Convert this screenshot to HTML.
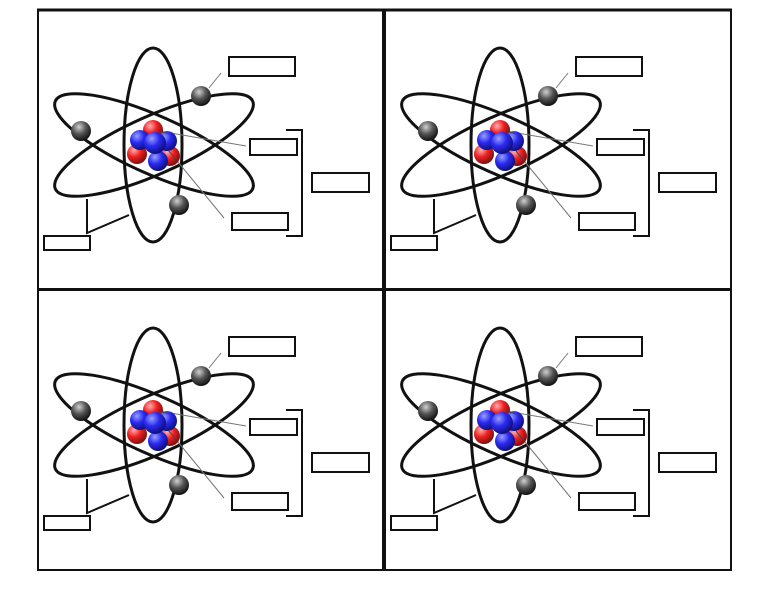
<!DOCTYPE html>
<html><head><style>
html,body{margin:0;padding:0;background:#fff;}
svg{display:block;}
</style></head><body>
<svg width="768" height="594" viewBox="0 0 768 594" xmlns="http://www.w3.org/2000/svg">
<defs>
<radialGradient id="gb" cx="0.35" cy="0.3" r="0.7"><stop offset="0" stop-color="#9aa0ff"/><stop offset="0.5" stop-color="#2a2af0"/><stop offset="1" stop-color="#101080"/></radialGradient>
<radialGradient id="gr" cx="0.35" cy="0.3" r="0.7"><stop offset="0" stop-color="#ffb0b0"/><stop offset="0.5" stop-color="#f02020"/><stop offset="1" stop-color="#801010"/></radialGradient>
<radialGradient id="gg" cx="0.4" cy="0.3" r="0.7"><stop offset="0" stop-color="#d0d0d0"/><stop offset="0.5" stop-color="#555"/><stop offset="1" stop-color="#111"/></radialGradient>
<g id="p">
 <g fill="none" stroke="#111" stroke-width="3">
  <ellipse cx="153" cy="145" rx="29" ry="97"/>
  <ellipse cx="154" cy="145" rx="108" ry="29" transform="rotate(24 154 145)"/>
  <ellipse cx="154" cy="145" rx="108" ry="29" transform="rotate(-24 154 145)"/>
 </g>
 <g stroke="#777" stroke-width="1">
  <line x1="209" y1="88" x2="221" y2="73"/>
  <line x1="159" y1="131" x2="246" y2="146"/>
  <line x1="169" y1="151" x2="224" y2="218"/>
 </g>
 <circle cx="153" cy="130" r="10" fill="url(#gr)"/>
 <circle cx="137" cy="154" r="10" fill="url(#gr)"/>
 <circle cx="170" cy="156" r="10" fill="url(#gr)"/>
 <circle cx="140" cy="140" r="10" fill="url(#gb)"/>
 <circle cx="167" cy="141" r="10" fill="url(#gb)"/>
 <circle cx="158" cy="161" r="10" fill="url(#gb)"/>
 <circle cx="155" cy="143" r="11" fill="url(#gb)"/>
 <line x1="159" y1="131" x2="170" y2="134" stroke="#444" stroke-width="1"/>
 <line x1="169" y1="151" x2="176" y2="160" stroke="#444" stroke-width="1"/>
 <circle cx="201" cy="96" r="10" fill="url(#gg)"/>
 <circle cx="81" cy="131" r="10" fill="url(#gg)"/>
 <circle cx="179" cy="205" r="10" fill="url(#gg)"/>
 <g fill="#fff" stroke="#111" stroke-width="2">
  <rect x="229" y="57" width="66" height="19"/>
  <rect x="250" y="139" width="47" height="16"/>
  <rect x="312" y="173" width="57" height="19"/>
  <rect x="232" y="213" width="56" height="17"/>
  <rect x="44" y="236" width="46" height="14"/>
 </g>
 <g fill="none" stroke="#111" stroke-width="2">
  <polyline points="286,130 302,130 302,236 286,236"/>
  <polyline points="87,199 87,233 129,215"/>
 </g>
</g>
</defs>
<use href="#p"/>
<use href="#p" transform="translate(347,0)"/>
<use href="#p" transform="translate(0,280)"/>
<use href="#p" transform="translate(347,280)"/>
<g fill="none" stroke="#111" stroke-width="2">
 <rect x="38" y="10" width="345" height="279"/>
 <rect x="385" y="10" width="346" height="279"/>
 <rect x="38" y="290" width="345" height="280"/>
 <rect x="385" y="290" width="346" height="280"/>
</g>
<line x1="37" y1="10" x2="732" y2="10" stroke="#111" stroke-width="3"/>
</svg>
</body></html>
